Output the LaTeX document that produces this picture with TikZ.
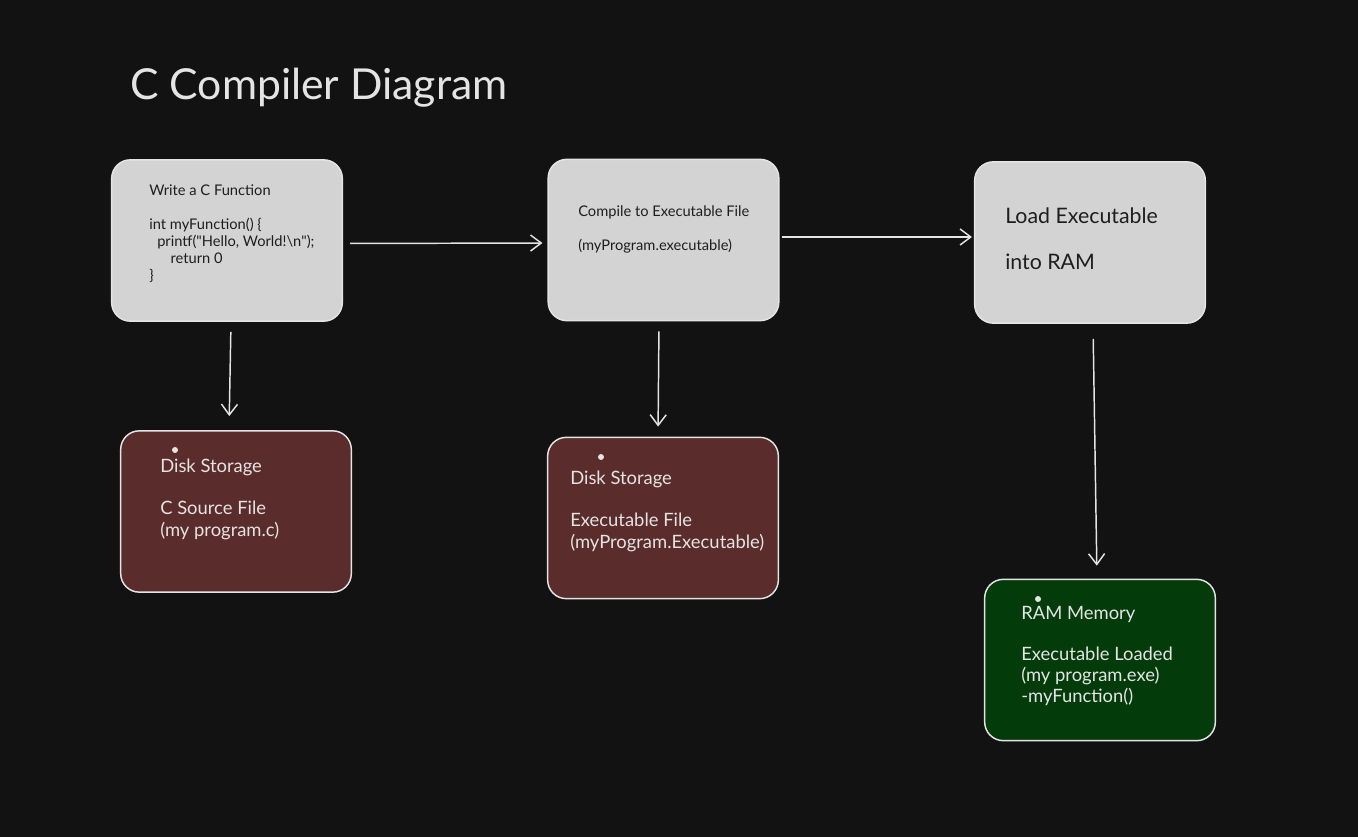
\documentclass[tikz,border=0pt]{standalone}
\usepackage{fontspec}
\setmainfont{Lato}
\usepackage{xcolor}
\usepackage{tikz}
\usetikzlibrary{arrows.meta, positioning, calc}
\definecolor{bgdark}{HTML}{121212}
\definecolor{boxgrey}{HTML}{D3D3D3}
\definecolor{diskred}{HTML}{5B2C2C}
\definecolor{ramgreen}{HTML}{043B0B}
\definecolor{inkline}{HTML}{E4E4E4}
\definecolor{inktext}{HTML}{1E1E1E}

\begin{document}
\begin{tikzpicture}[
      x=0.75pt, y=-0.75pt,
      box/.style={draw=inkline, line width=1.1pt, rounded corners=14pt, minimum width=173pt,
                  minimum height=121pt, inner sep=0pt, fill=#1},
      arr/.style={-{Straight Barb[length=8pt, width=12pt]}, line width=1.1pt, color=inkline},
      dark/.style={anchor=base west, align=left, inner sep=0pt, color=inktext,
                   font=\fontsize{11}{12.75}\selectfont},
      light/.style={anchor=base west, align=left, inner sep=0pt, color=inkline,
                    font=\fontsize{13.8}{16}\selectfont},
      dot/.style={circle, fill=inkline, inner sep=0pt, minimum size=4.5pt}
  ]
    \fill[bgdark] (0,0) rectangle (1358,837);
    \useasboundingbox (0,0) rectangle (1358,837);

    \node[anchor=base west, inner sep=0pt, color=inkline, font=\fontsize{32}{38}\selectfont]
          (title) at (130,100) {C Compiler Diagram};

    % top row
    \node[box=boxgrey] (write)   at (227,240.5) {};
    \node[box=boxgrey] (compile) at (663.5,240) {};
    \node[box=boxgrey] (load)    at (1090,242.5) {};

    % text nodes sit on the baseline of their last line
    \node[dark] (write-txt) at (149,281) {Write a C Function\\[12.75pt]
          int myFunction() \{\\
          \hspace*{6pt}printf(\textquotedbl Hello, World!\textbackslash n\textquotedbl);\\
          \hspace*{16pt}return 0\\
          \}};
    \node[dark] (compile-txt) at (578,251) {Compile to Executable File\\[12.75pt](myProgram.executable)};
    \node[dark, font=\fontsize{16}{17.6}\selectfont] (load-txt) at (1005,270) {Load Executable\\[17.6pt]into RAM};

    % storage row
    \node[box=diskred]  (disk1) at (236,511.5) {};
    \node[box=diskred]  (disk2) at (663,518) {};
    \node[box=ramgreen] (ram)   at (1100,660) {};

    \node[dot] (dot1) at (175,450) {};
    \node[dot] (dot2) at (601,457) {};
    \node[dot] (dot3) at (1038,599) {};

    \node[light] (disk1-txt) at (160,536) {Disk Storage\\[16pt]C Source File\\(my program.c)};
    \node[light] (disk2-txt) at (570,548) {Disk Storage\\[16pt]Executable File\\(myProgram.Executable)};
    \node[light, font=\fontsize{13.8}{15.4}\selectfont] (ram-txt) at (1021,702)
          {RAM Memory\\[15.4pt]Executable Loaded\\(my program.exe)\\-myFunction()};

    \draw[arr, shorten <=5.25pt, shorten >=3.75pt] ([shift={(0,3)}]write.east) -- ([shift={(0,3)}]compile.west);
    \draw[arr, shorten <=1.5pt, shorten >=1.5pt] ([shift={(0,-3)}]compile.east) -- ([shift={(0,-5.5)}]load.west);
    \draw[arr, shorten <=7.5pt, shorten >=10.5pt] ([shift={(4,0)}]write.south) -- ([shift={(-7,0)}]disk1.north);
    \draw[arr, shorten <=7.5pt, shorten >=7.5pt] ([shift={(-4.5,0)}]compile.south) -- ([shift={(-5,0)}]disk2.north);
    \draw[arr, shorten <=11.25pt, shorten >=9.75pt] ([shift={(3,0)}]load.south) -- ([shift={(-3,0)}]ram.north);
  \end{tikzpicture}
\end{document}
